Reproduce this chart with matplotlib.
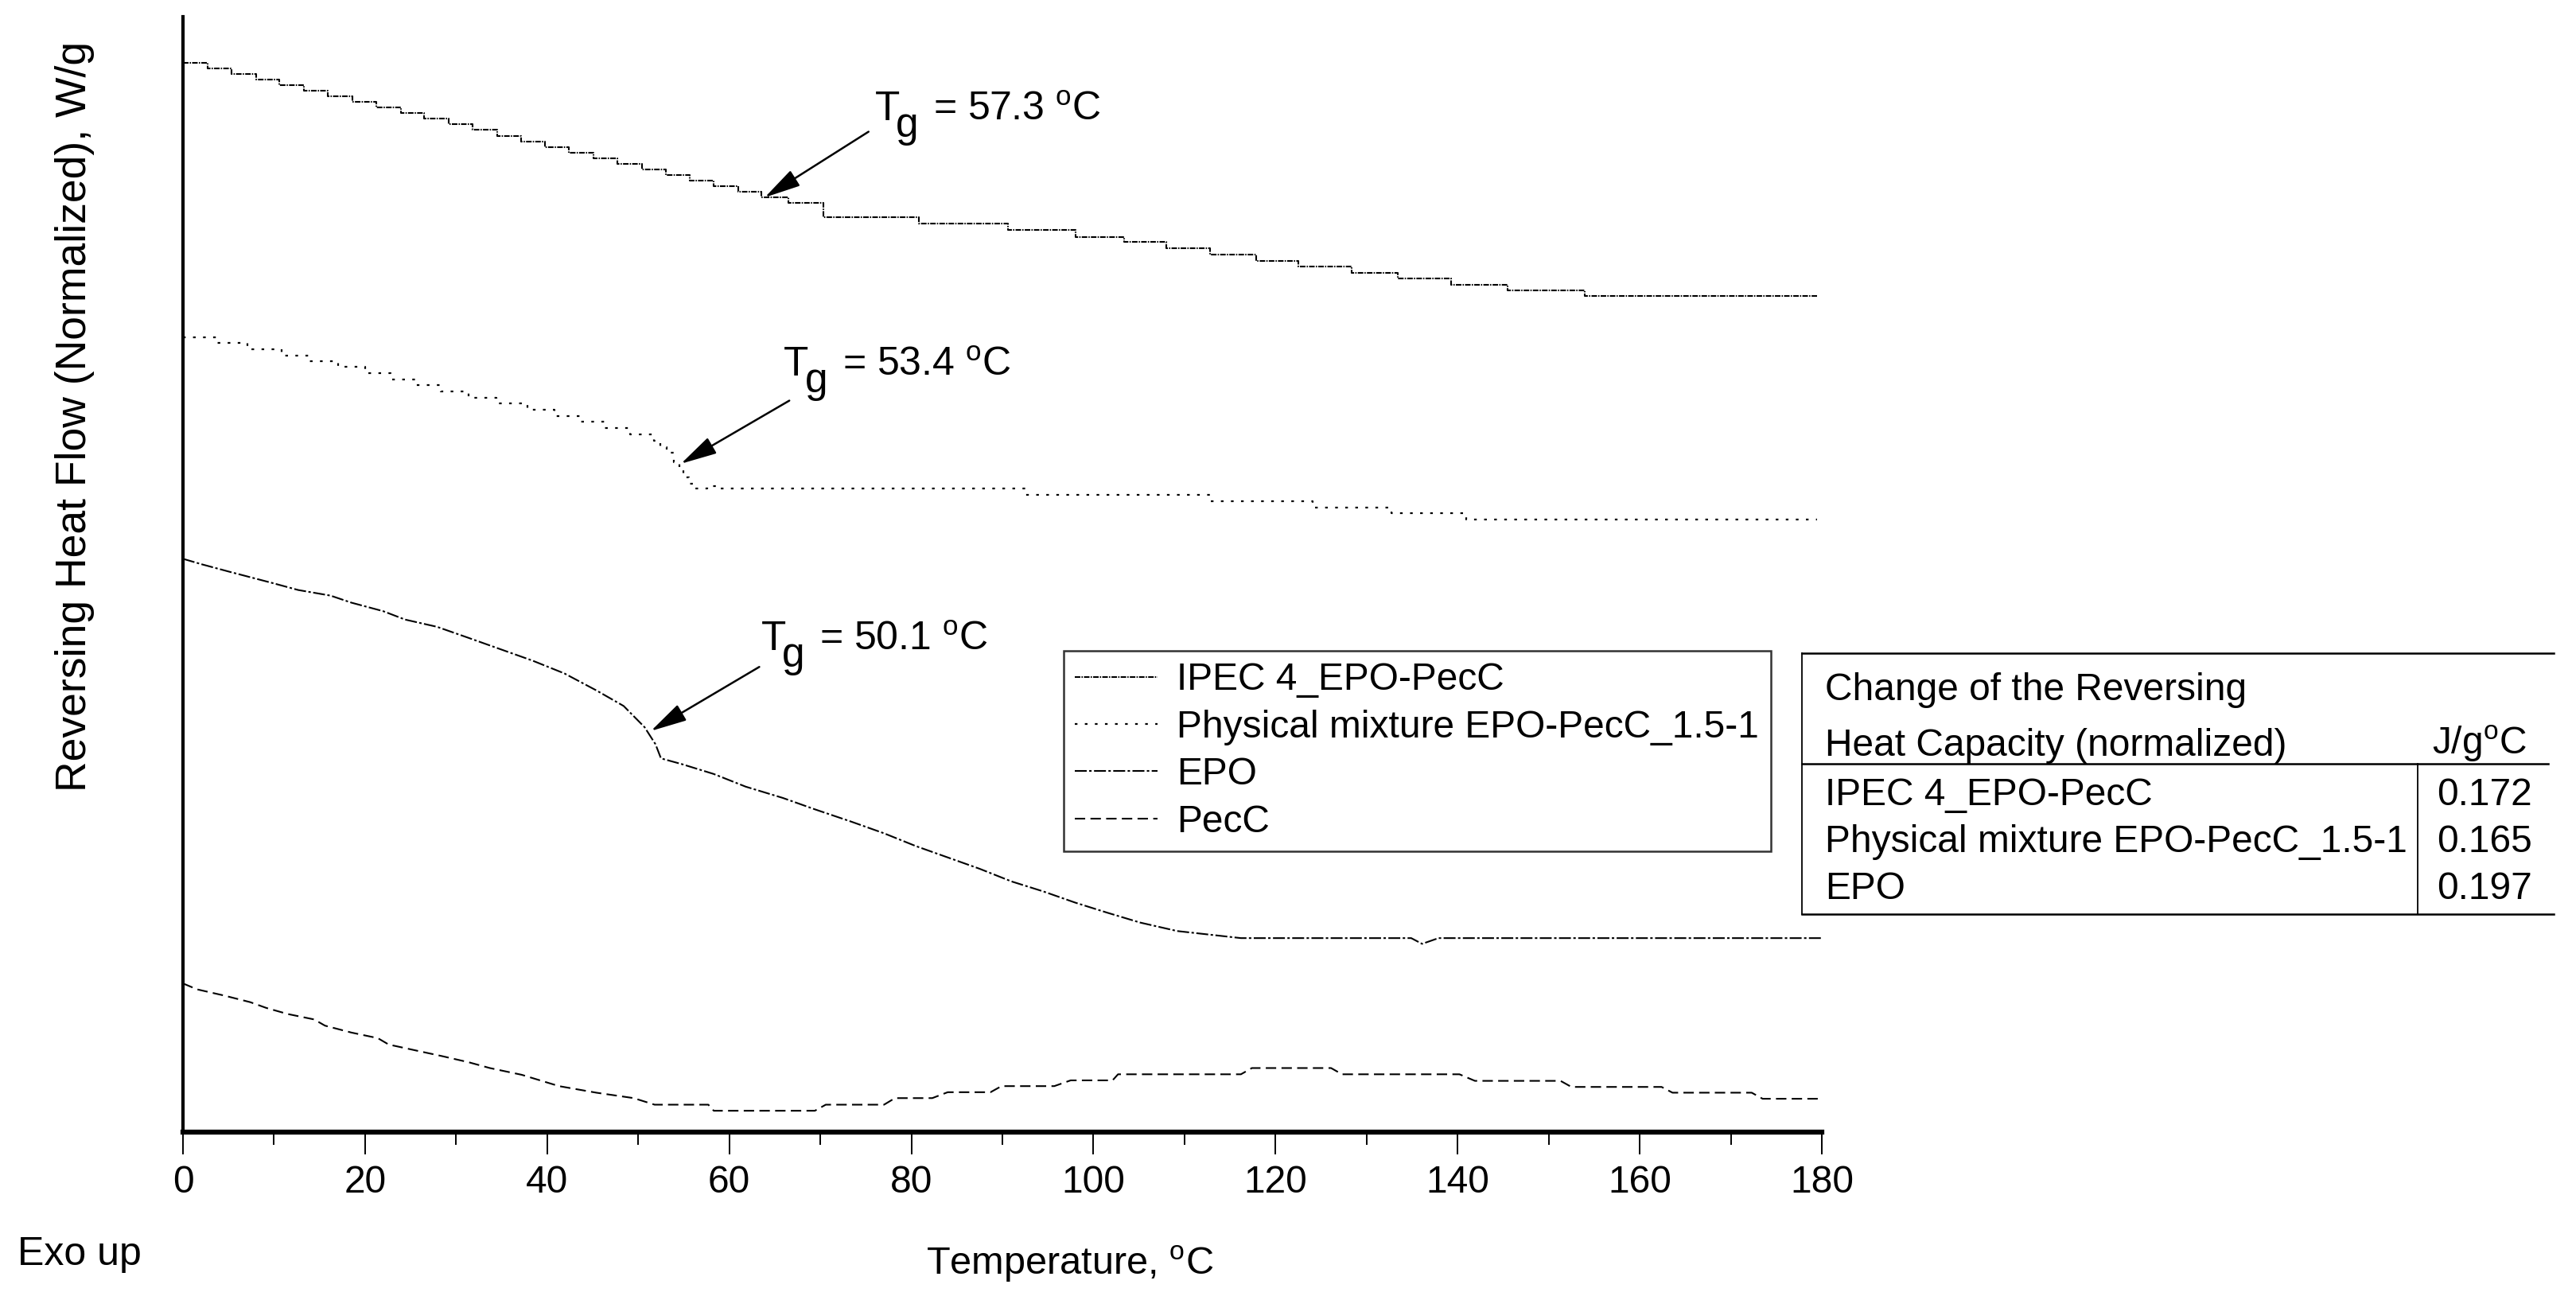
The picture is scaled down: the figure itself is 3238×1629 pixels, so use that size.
import matplotlib
matplotlib.use("Agg")
import matplotlib.pyplot as plt
from matplotlib.lines import Line2D

plt.rcParams["font.family"] = "Liberation Sans"
plt.rcParams["mathtext.fontset"] = "custom"
plt.rcParams["mathtext.rm"] = "Liberation Sans"
plt.rcParams["mathtext.it"] = "Liberation Sans:italic"
plt.rcParams["lines.scale_dashes"] = False

# ---- data (arbitrary offset units) ----
ipec_t = [0, 2.7, 5.3, 8.0, 10.6, 13.3, 15.9, 18.6, 21.2, 23.9, 26.5, 29.2, 31.8,
          34.5, 37.1, 39.8, 42.4, 45.1, 47.7, 50.4, 53.0, 55.7, 58.3, 61.0, 63.5,
          66.5, 70.3, 80.8, 90.6, 98.0, 103.4, 108.0, 112.8, 117.9, 122.5, 128.4,
          133.4, 139.3, 145.5, 154.0, 179.5]
ipec_h = [651.0, 647.6, 644.2, 640.7, 637.3, 633.9, 630.5, 627.1, 623.6, 620.2,
          616.8, 613.4, 610.0, 606.5, 603.1, 599.7, 596.3, 592.9, 589.4, 586.0,
          582.6, 579.2, 575.8, 572.3, 568.9, 565.5, 557.0, 553.0, 549.0, 545.0,
          542.0, 538.0, 534.0, 530.5, 527.0, 523.0, 519.5, 516.0, 512.5, 509.0, 509.0]

mix_t = [0, 3.7, 7.1, 10.8, 13.9, 17.0, 20.0, 22.8, 25.5, 28.3, 31.4, 34.4, 37.8,
         40.8, 43.6, 46.3, 49.1, 51.7, 52.4, 53.1, 53.9, 54.5, 55.0, 55.6, 56.3,
         57.6, 58.5, 92.5, 112.8, 124.1, 132.7, 140.9, 179.5]
mix_h = [484.0, 480.3, 476.6, 472.8, 469.5, 465.8, 462.1, 458.3, 454.6, 450.9,
         447.2, 443.5, 439.8, 436.0, 432.3, 428.6, 424.5, 420.8, 417.1, 413.4,
         407.8, 403.1, 398.5, 394.8, 392.0, 393.5, 392.0, 387.9, 384.2, 380.4,
         376.6, 373.0, 373.0]

epo_t = [0, 2.1, 5.05, 9.73, 12.66, 16.2, 18.5, 22.0, 24.4, 27.9, 31.4, 34.9, 38.4,
         41.9, 45.4, 48.4, 50.7, 51.9, 52.5, 54.8, 58.3, 61.8, 65.9, 69.4, 73.5,
         77.0, 80.5, 84.0, 87.5, 91.0, 94.5, 98.0, 101.5, 105.1, 109.2, 116.2,
         134.9, 136.1, 137.9, 180.0]
epo_h = [349.0, 345.6, 341.2, 334.4, 330.0, 326.6, 322.3, 317.1, 312.0, 307.6,
         300.8, 293.9, 287.0, 279.2, 268.9, 259.4, 246.5, 236.1, 227.5, 224.0,
         218.0, 210.3, 203.4, 196.5, 188.8, 181.9, 174.1, 167.2, 160.3, 152.6,
         146.5, 139.7, 133.6, 127.6, 122.4, 118.1, 118.1, 114.6, 118.1, 118.1]

pecc_t = [0, 1.55, 4.47, 7.39, 9.15, 11.5, 14.4, 15.6, 18.5, 21.4, 22.6, 25.5, 28.5,
          31.4, 33.7, 37.2, 41.3, 45.4, 49.5, 51.8, 57.7, 58.3, 69.4, 70.6, 77.0,
          78.2, 82.3, 84.0, 88.7, 89.9, 95.7, 97.5, 102.1, 102.7, 116.2, 117.4,
          126.1, 127.3, 140.2, 141.9, 151.3, 152.5, 162.4, 163.6, 172.3, 173.5, 180.0]
pecc_h = [90.5, 86.9, 83.2, 79.1, 75.6, 71.9, 68.6, 64.8, 60.6, 57.2, 53.3, 49.8,
          46.2, 42.5, 39.0, 34.9, 28.0, 24.0, 20.7, 16.7, 16.7, 13.0, 13.0, 16.7,
          16.7, 20.7, 20.7, 24.3, 24.3, 28.0, 28.0, 31.5, 31.5, 35.2, 35.2, 39.0,
          39.0, 35.2, 35.2, 31.2, 31.2, 27.5, 27.5, 24.0, 24.0, 20.3, 20.3]

series_names = ["IPEC 4_EPO-PecC", "Physical mixture EPO-PecC_1.5-1", "EPO", "PecC"]

# Tg annotations: value, text anchor (T, h), arrow tail, arrow tip
tg_values = ["57.3", "53.4", "50.1"]
tg_text_xy = [(76.0, 616.0), (66.0, 460.5), (63.5, 293.5)]
tg_tail = [(75.3, 609.0), (66.6, 445.3), (63.3, 283.2)]
tg_tip = [(63.9, 569.0), (54.7, 406.9), (51.4, 244.2)]

# table of heat capacity changes
table_rows = ["IPEC 4_EPO-PecC", "Physical mixture EPO-PecC_1.5-1", "EPO"]
table_vals = ["0.172", "0.165", "0.197"]

W, H = 3238, 1629
FS = 34.5


def fx(px):
    return px / W


def fy(py):
    return 1 - py / H


fig = plt.figure(figsize=(W / 100, H / 100), dpi=100)
ax = fig.add_axes([fx(230), fy(1423), (2290 - 230) / W, (1423 - 21) / H])

ax.plot(ipec_t, ipec_h, drawstyle="steps-post", color="black", lw=1.5,
        dashes=(5.0, 1.1, 1.1, 1.1), label=series_names[0])
ax.plot(mix_t, mix_h, drawstyle="steps-post", color="black", lw=1.6,
        dashes=(2.4, 6.7), label=series_names[1])
ax.plot(epo_t, epo_h, color="black", lw=1.5,
        dashes=(10.8, 2.2, 2.2, 2.2), label=series_names[2])
ax.plot(pecc_t, pecc_h, color="black", lw=1.5,
        dashes=(9.4, 4.8), label=series_names[3])

ax.set_xlim(0, 180)
ax.set_ylim(0, 679)
ax.set_xticks(range(0, 181, 20))
ax.set_xticks(range(10, 180, 20), minor=True)
ax.tick_params(axis="x", which="major", direction="out", length=20.5, width=1.4,
               labelsize=FS, pad=9)
ax.tick_params(axis="x", which="minor", direction="out", length=11.5, width=1.4)
ax.set_yticks([])
for side in ["top", "right"]:
    ax.spines[side].set_visible(False)
ax.spines["left"].set_linewidth(3.0)
ax.spines["bottom"].set_linewidth(4.5)

ax.set_xlabel("Temperature, $\\mathregular{^{o}}$C", fontsize=FS + 0.5)
ax.xaxis.label.set_va("baseline")
ax.xaxis.set_label_coords(0.541, (1423 - 1602) / 1402)
ax.set_ylabel("Reversing Heat Flow (Normalized), W/g", fontsize=38.5)
ax.yaxis.label.set_va("center")
ax.yaxis.set_label_coords((94 - 230) / 2060, (1423 - 523) / 1402)

fig.text(fx(22), fy(1590), "Exo up", fontsize=36, ha="left", va="baseline")

# Tg labels and arrows
for val, txy, tail, tip in zip(tg_values, tg_text_xy, tg_tail, tg_tip):
    ax.annotate("", xy=tip, xytext=tail,
                arrowprops=dict(arrowstyle="-|>,head_length=1.4,head_width=0.35",
                                mutation_scale=20, lw=1.8, color="black",
                                shrinkA=0, shrinkB=0))
    ax.annotate("T", xy=txy, xytext=(0, 0), textcoords="offset points",
                fontsize=37, ha="left", va="baseline")
    ax.annotate("g", xy=txy, xytext=(19, -15), textcoords="offset points",
                fontsize=37, ha="left", va="baseline")
    ax.annotate("= " + val + " $\\mathregular{^{o}}$C", xy=txy, xytext=(53, 0),
                textcoords="offset points", fontsize=36, ha="left", va="baseline")

leg = ax.legend(loc="upper left", bbox_to_anchor=((1337 - 230) / 2060, (1423 - 818) / 1402),
                fontsize=FS, frameon=True, fancybox=False, borderaxespad=0,
                borderpad=0.3, labelspacing=0.3, handlelength=2.17,
                handletextpad=0.5)
leg.get_frame().set_edgecolor("black")
leg.get_frame().set_linewidth(1.8)

# table drawn in figure coordinates
def hline(y, x0, x1, lw=1.8):
    fig.add_artist(Line2D([fx(x0), fx(x1)], [fy(y), fy(y)], color="black", lw=lw))


def vline(x, y0, y1, lw=1.8):
    fig.add_artist(Line2D([fx(x), fx(x)], [fy(y0), fy(y1)], color="black", lw=lw))


hline(821, 2265, 3210)
hline(960, 2265, 3203)
hline(1149, 2265, 3210)
vline(2265, 821, 1149, lw=1.3)
vline(3039, 960, 1149, lw=1.3)

fig.text(fx(2294), fy(880), "Change of the Reversing", fontsize=FS, ha="left", va="baseline")
fig.text(fx(2294), fy(950), "Heat Capacity (normalized)", fontsize=FS, ha="left", va="baseline")
fig.text(fx(3057), fy(948), "J/g$\\mathregular{^{o}}$C", fontsize=FS, ha="left", va="baseline")
for i, (name, val) in enumerate(zip(table_rows, table_vals)):
    base = 1012 + i * 59
    fig.text(fx(2294), fy(base), name, fontsize=FS, ha="left", va="baseline")
    fig.text(fx(3063), fy(base), val, fontsize=FS, ha="left", va="baseline")

fig.savefig("out.png", dpi=100)
